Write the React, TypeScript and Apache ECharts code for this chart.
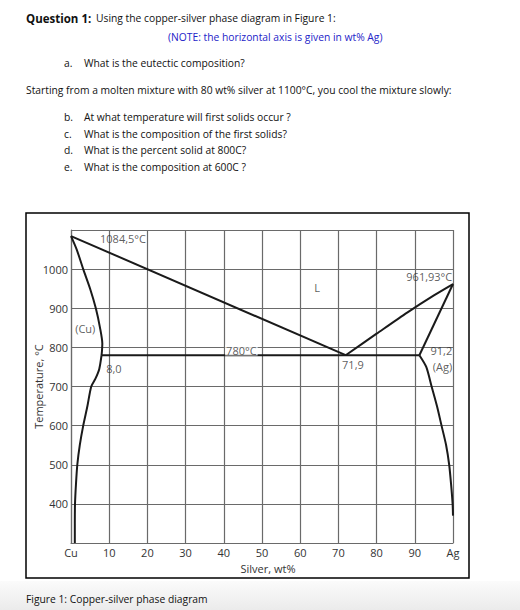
import React, { useEffect, useRef } from "react";
import * as echarts from "echarts";

// ---- data (wt% Ag, temperature °C) ----
const liquidusCu = [[0, 1084.5], [71.9, 780]];
const liquidusAg = [[71.9, 780], [80, 835], [88, 889], [95, 933], [100, 961.93]];
const solidusAg = [[100, 961.93], [91.2, 780]];
const solidusCu = [[0, 1084.5], [1.5, 1050], [3.2, 1000], [5, 950], [6.5, 900], [7.6, 850], [8.2, 810], [8.1, 790], [8.0, 780]];
const eutectic = [[8.0, 780], [91.2, 780]];
const solvusCu = [[8.0, 780], [7.4, 745], [6.4, 720], [5.3, 700], [4.3, 650], [3.2, 600], [2.3, 550], [1.65, 500], [1.3, 450], [1.05, 400], [1.0, 350], [1.0, 300]];
const solvusAg = [[91.2, 780], [93.0, 750], [94.4, 700], [95.8, 650], [97.0, 600], [98.2, 550], [99.0, 500], [99.5, 450], [99.9, 400], [100, 370]];

const annotations = [
  { text: "1084,5°C", x: 7.6, t: 1077, align: "left", bg: false },
  { text: "961,93°C", x: 99.8, t: 980, align: "right", bg: false },
  { text: "L", x: 64.4, t: 952, align: "center", bg: false },
  { text: "(Cu)", x: 1.1, t: 847, align: "left", bg: false },
  { text: "780°C", x: 44.6, t: 793, align: "center", bg: true },
  { text: "8,0", x: 9.2, t: 747, align: "left", bg: false },
  { text: "71,9", x: 73.8, t: 757, align: "center", bg: false },
  { text: "91,2", x: 99.8, t: 791, align: "right", bg: false },
  { text: "(Ag)", x: 99.8, t: 750, align: "right", bg: false },
];

const xMin = 0, xMax = 100, xStep = 10;
const yMin = 300, yMax = 1100, yStep = 100;
const xEndLabels: Record<number, string> = { 0: "Cu", 100: "Ag" };
const yHiddenLabels = [300, 1100];

const questionLines = [
  { text: "Starting from a molten mixture with 80 wt% silver at 1100°C, you cool the mixture slowly:", y: 90 },
];
const items = [
  { key: "a.", text: "What is the eutectic composition?", y: 63 },
  { key: "b.", text: "At what temperature will first solids occur ?", y: 117 },
  { key: "c.", text: "What is the composition of the first solids?", y: 134 },
  { key: "d.", text: "What is the percent solid at 800C?", y: 150 },
  { key: "e.", text: "What is the composition at 600C ?", y: 167 },
];

const FONT = "'Open Sans', 'Noto Sans', sans-serif";
const LINE = "#1a1a1a";

export default function App() {
  const ref = useRef<HTMLDivElement>(null);
  useEffect(() => {
    if (!ref.current) return;
    const chart = echarts.init(ref.current, null, { renderer: "svg" });
    const lineSeries = (name: string, data: number[][], smooth: boolean) => ({
      type: "line",
      name,
      data,
      showSymbol: false,
      smooth: smooth ? 0.25 : false,
      lineStyle: { color: LINE, width: 2 },
      z: 3,
    });
    const txt = (text: string, x: number, y: number, extra: any = {}) => ({
      type: "text",
      x,
      y,
      style: { text, fontFamily: FONT, fontSize: 10.3, fill: "#111", verticalAlign: "middle", ...extra },
    });
    const graphic: any[] = [
      {
        type: "rect",
        shape: { x: 0, y: 581, width: 520, height: 29 },
        style: {
          fill: new echarts.graphic.LinearGradient(0, 0, 0, 1, [
            { offset: 0, color: "#fbfbfb" },
            { offset: 1, color: "#ebebeb" },
          ]),
        },
        z: -10,
      },
      {
        type: "rect",
        shape: { x: 26, y: 213, width: 443, height: 365 },
        style: { fill: null, stroke: "#000", lineWidth: 1.5 },
        z: -5,
      },
      txt("Question 1:", 26, 18, { fontWeight: "bold", fontSize: 11.5 }),
      txt("Using the copper-silver phase diagram in Figure 1:", 96, 18),
      txt("(NOTE: the horizontal axis is given in wt% Ag)", 168, 37, { fill: "#2323c8" }),
      ...questionLines.map((q) => txt(q.text, 26, q.y)),
      ...items.flatMap((it) => [txt(it.key, 64, it.y), txt(it.text, 84, it.y)]),
      txt("Figure 1: Copper-silver phase diagram", 26, 599),
    ];
    chart.setOption({
      animation: false,
      backgroundColor: "#fff",
      grid: { left: 71, right: 67, top: 230, bottom: 67 },
      xAxis: {
        type: "value",
        min: xMin,
        max: xMax,
        interval: xStep,
        name: "Silver, wt%",
        nameLocation: "middle",
        nameGap: 20,
        nameMoveOverlap: false,
        nameTextStyle: { fontFamily: FONT, fontSize: 11, color: "#333", padding: [0, 0, 0, 12] },
        axisLine: { show: true, lineStyle: { color: "#6a6a6a", width: 1.2 } },
        axisTick: { show: false },
        axisLabel: {
          fontFamily: FONT,
          fontSize: 11,
          color: "#333",
          margin: 4,
          formatter: (v: number) => (xEndLabels[v] !== undefined ? xEndLabels[v] : String(v)),
        },
        splitLine: { show: true, showMinLine: true, showMaxLine: true, lineStyle: { color: "#6a6a6a", width: 1.2 } },
      },
      yAxis: {
        type: "value",
        min: yMin,
        max: yMax,
        interval: yStep,
        name: "Temperature, °C",
        nameLocation: "middle",
        nameGap: 27,
        nameMoveOverlap: false,
        nameRotate: 90,
        nameTextStyle: { fontFamily: FONT, fontSize: 11, color: "#333" },
        axisLine: { show: true, lineStyle: { color: "#6a6a6a", width: 1.2 } },
        axisTick: { show: false },
        axisLabel: {
          fontFamily: FONT,
          fontSize: 11,
          color: "#333",
          margin: 3,
          formatter: (v: number) => (yHiddenLabels.includes(v) ? "" : String(v)),
        },
        splitLine: { show: true, showMinLine: true, showMaxLine: true, lineStyle: { color: "#6a6a6a", width: 1.2 } },
      },
      series: [
        lineSeries("liquidusCu", liquidusCu, false),
        lineSeries("liquidusAg", liquidusAg, true),
        lineSeries("solidusAg", solidusAg, false),
        lineSeries("solidusCu", solidusCu, true),
        lineSeries("eutectic", eutectic, false),
        lineSeries("solvusCu", solvusCu, true),
        lineSeries("solvusAg", solvusAg, true),
        {
          type: "scatter",
          name: "labels",
          symbolSize: 0,
          z: 5,
          data: annotations.map((a) => ({
            value: [a.x, a.t],
            label: {
              show: true,
              position: "inside",
              formatter: a.text,
              align: a.align,
              verticalAlign: "middle",
              fontFamily: FONT,
              fontSize: 11,
              color: "#333",
              backgroundColor: a.bg ? "#fff" : "transparent",
              padding: a.bg ? [0, 1] : 0,
            },
          })),
        },
      ],
      graphic,
    });
    return () => chart.dispose();
  }, []);
  return <div ref={ref} style={{ position: "absolute", left: 0, top: 0, width: 520, height: 610 }} />;
}
